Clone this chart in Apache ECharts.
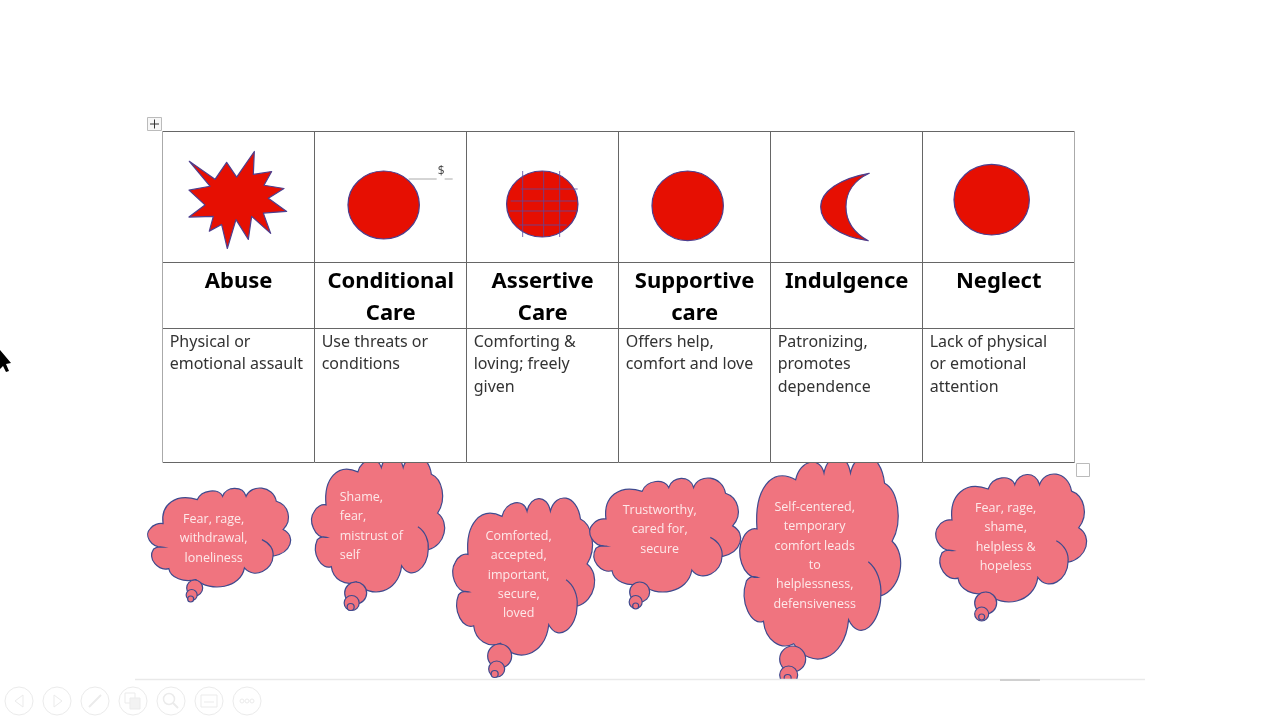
<!DOCTYPE html>
<html><head><meta charset="utf-8">
<style>html,body{margin:0;padding:0;background:#fff}#c{width:1280px;height:720px}</style>
<script src="https://cdn.jsdelivr.net/npm/echarts@6/dist/echarts.min.js"></script>
</head><body><div id="c"></div>
<script>
const categories = ['Abuse','Conditional Care','Assertive Care','Supportive care','Indulgence','Neglect'];
const headerLines = [['Abuse'],['Conditional','Care'],['Assertive','Care'],['Supportive','care'],['Indulgence'],['Neglect']];
const descriptions = [
  ['Physical or','emotional assault'],
  ['Use threats or','conditions'],
  ['Comforting &','loving; freely','given'],
  ['Offers help,','comfort and love'],
  ['Patronizing,','promotes','dependence'],
  ['Lack of physical','or emotional','attention']
];
const feelings = [
  ['Fear, rage,','withdrawal,','loneliness'],
  ['Shame,','fear,','mistrust of','self'],
  ['Comforted,','accepted,','important,','secure,','loved'],
  ['Trustworthy,','cared for,','secure'],
  ['Self-centered,','temporary','comfort leads','to','helplessness,','defensiveness'],
  ['Fear, rage,','shame,','helpless &','hopeless']
];

/* ---- layout and style, separate from the content ---- */
const RED='#e60f02', EDGE='#4c3f8f', PINK='#f0747f', CLOUD_EDGE='#3f4a8e', LINE='#666';
const rows=[131,262,328,462];
const CLOUD='M70 278C30 280 10 240 30 222C38 210 55 205 68 207C60 150 105 115 170 135C182 105 235 100 245 125C255 95 305 92 315 125C330 88 395 92 405 140C440 150 455 195 425 225C465 245 450 295 395 305C395 345 340 375 310 340C300 400 210 415 165 375C130 385 90 370 85 342C55 350 20 315 40 283C48 277 60 276 70 278Z'
 +'M362 255C385 265 398 285 395 305';
const STAR='M148 152L225 207L260 155L290 200L343 122L340 192L395 183L372 225L432 235L385 265L440 305L370 310L392 372L335 320L325 390L288 330L262 418L245 345L208 365L220 320L147 322L195 285L147 240L210 228Z';
const MOON='M778 190C690 205 632 245 632 290C632 340 690 380 775 392C735 370 708 335 708 290C708 245 735 210 778 190Z';
const cloudBox=[[-91,488,143,99],[-79,456,133,136],[-90,498,142,157],[-105,478,151,114],[-107,456,161,203],[-63,474,151,128]];
const textPos=[[-25,519.5,'center'],[-51,497.5,'left'],[-24,536.5,'center'],[-35,510.5,'center'],[-32,507.5,'center'],[7,508.5,'center']];
const tails=[
 [[-44,588,8],[-47,595,5.5],[-48,599,3]],
 [[-35,593,11],[-39,603,7.5],[-40,607,3.5]],
 [[-43,656,12],[-46,669,8],[-48,674,3.5]],
 [[-55,592,10],[-59,602,6.5],[-59,606,3]],
 [[-54,659,13],[-58,675,9],[-59,678,3.5]],
 [[-13,603,11],[-17,614,7],[-17,617,3]]
];
const ellipses=[null,[-7,205,35.7,34],[-0.4,204,35.7,33],[-7,205.8,35.7,34.8],null,[-7,199.7,37.7,35.3]];

const chart=echarts.init(document.getElementById('c'),null,{renderer:'canvas'});
const yp=(api,v)=>api.coord([0,v])[1];

function bubbleItem(params,api){
  const i=api.value(0), cx=api.coord([i,0])[0], kids=[];
  const b=cloudBox[i];
  kids.push({type:'path',shape:{pathData:CLOUD,layout:'cover',x:cx+b[0],y:yp(api,b[1]),width:b[2],height:b[3]},
    style:{fill:PINK,stroke:CLOUD_EDGE,lineWidth:1.2}});
  tails[i].forEach(t=>kids.push({type:'circle',shape:{cx:cx+t[0],cy:yp(api,t[1]),r:t[2]},
    style:{fill:PINK,stroke:CLOUD_EDGE,lineWidth:1.2}}));
  const p=textPos[i];
  feelings[i].forEach((l,k)=>kids.push({type:'text',style:{text:l,x:cx+p[0],y:yp(api,p[1]+k*19.3),
    fill:'#fde9ea',font:'12.5px "Open Sans"',textAlign:p[2],textVerticalAlign:'middle'}}));
  return {type:'group',children:kids};
}

function cellItem(params,api){
  const i=api.value(0), cx=api.coord([i,0])[0], bw=api.size([1,0])[0], L=cx-bw/2, R=cx+bw/2, kids=[];
  const T=yp(api,rows[0]),B=yp(api,rows[3]);
  kids.push({type:'rect',shape:{x:L,y:T-8,width:bw,height:B-T+8},style:{fill:'#fff'}});
  rows.forEach(r=>kids.push({type:'line',shape:{x1:L,y1:yp(api,r)+.5,x2:R,y2:yp(api,r)+.5},style:{stroke:LINE,lineWidth:1}}));
  kids.push({type:'line',shape:{x1:Math.floor(L)+.5,y1:T,x2:Math.floor(L)+.5,y2:B},style:{stroke:i==0?'#aaa':LINE,lineWidth:1}});
  if(i==5) kids.push({type:'line',shape:{x1:Math.floor(R)+.5,y1:T,x2:Math.floor(R)+.5,y2:B},style:{stroke:'#aaa',lineWidth:1}});
  const shapeStyle={fill:RED,stroke:EDGE,lineWidth:1.2,lineJoin:'round'};
  const e=ellipses[i];
  if(i==0) kids.push({type:'path',shape:{pathData:STAR,layout:'cover',x:cx-49.7,y:yp(api,151.5),width:97.7,height:97},style:shapeStyle});
  if(i==4) kids.push({type:'path',shape:{pathData:MOON,layout:'cover',x:cx-26,y:yp(api,173.3),width:48.6,height:67.4},style:shapeStyle});
  if(e) kids.push({type:'ellipse',shape:{cx:cx+e[0],cy:yp(api,e[1]),rx:e[2],ry:e[3]},style:shapeStyle});
  if(i==2){
    const g={stroke:'#5b4aa0',lineWidth:1,opacity:.8};
    [-20,1,17].forEach(d=>kids.push({type:'line',shape:{x1:cx+d,y1:yp(api,171),x2:cx+d,y2:yp(api,237)},style:g}));
    [[189,-22,35],[201,-32,34],[211,-33,34],[225,-24,24]].forEach(h=>kids.push({type:'line',shape:{x1:cx+h[1],y1:yp(api,h[0]),x2:cx+h[2],y2:yp(api,h[0])},style:g}));
  }
  if(i==1){
    kids.push({type:'line',shape:{x1:cx+18,y1:yp(api,179),x2:cx+46,y2:yp(api,179)},style:{stroke:'#aaa',lineWidth:1}});
    kids.push({type:'line',shape:{x1:cx+54,y1:yp(api,179),x2:cx+62,y2:yp(api,179)},style:{stroke:'#aaa',lineWidth:1}});
    kids.push({type:'text',style:{text:'$',x:cx+50.5,y:yp(api,172),fill:'#444',font:'12px "Open Sans"',textAlign:'center',textVerticalAlign:'middle'}});
  }
  headerLines[i].forEach((l,k)=>kids.push({type:'text',style:{text:l,x:cx,y:yp(api,281.5+k*32),fill:'#000',
    font:'bold 22px "Noto Sans"',textAlign:'center',textVerticalAlign:'middle'}}));
  descriptions[i].forEach((l,k)=>kids.push({type:'text',style:{text:l,x:L+7,y:yp(api,342+k*22.6),fill:'#333',
    font:'16px "Noto Sans"',textAlign:'left',textVerticalAlign:'middle'}}));
  return {type:'group',children:kids};
}

/* presentation chrome around the table */
const G=10, light='#ebebeb';
const chrome=[
 {type:'rect',z:G,shape:{x:0,y:679,width:1280,height:41},style:{fill:'#fff'}},
 {type:'line',z:G,shape:{x1:135,y1:679.5,x2:1145,y2:679.5},style:{stroke:'#e9e9e9',lineWidth:1.5}},
 {type:'line',z:G,shape:{x1:1000,y1:680,x2:1040,y2:680},style:{stroke:'#d0d0d0',lineWidth:2}},
 {type:'rect',z:G,shape:{x:147.5,y:117.5,width:14,height:13},style:{fill:'#f7f7f7',stroke:'#bbb',lineWidth:1}},
 {type:'line',z:G,shape:{x1:150,y1:124,x2:159,y2:124},style:{stroke:'#333',lineWidth:1}},
 {type:'line',z:G,shape:{x1:154.5,y1:119.5,x2:154.5,y2:128.5},style:{stroke:'#333',lineWidth:1}},
 {type:'rect',z:G,shape:{x:1076.5,y:463.5,width:13,height:13},style:{fill:'#fff',stroke:'#bbb',lineWidth:1}},
 {type:'polygon',z:G,shape:{points:[[0,350],[11,363],[6,364],[9,371],[6,372],[3,366],[0,369]]},style:{fill:'#000'}}
];
[19,57,95,133,171,209,247].forEach(x=>chrome.push({type:'circle',z:G,shape:{cx:x,cy:701,r:14},style:{fill:'none',stroke:light,lineWidth:1}}));
chrome.push(
 {type:'polygon',z:G,shape:{points:[[23,695],[15,701],[23,707]]},style:{fill:'none',stroke:light}},
 {type:'polygon',z:G,shape:{points:[[54,695],[62,701],[54,707]]},style:{fill:'none',stroke:light}},
 {type:'line',z:G,shape:{x1:89,y1:707,x2:101,y2:695},style:{stroke:light,lineWidth:2}},
 {type:'rect',z:G,shape:{x:125,y:693,width:10,height:10},style:{fill:'none',stroke:light}},
 {type:'rect',z:G,shape:{x:130,y:698,width:10,height:11},style:{fill:'#f2f2f2',stroke:light}},
 {type:'circle',z:G,shape:{cx:169,cy:699,r:5.5},style:{fill:'none',stroke:light,lineWidth:1.5}},
 {type:'line',z:G,shape:{x1:173,y1:703,x2:178,y2:708},style:{stroke:light,lineWidth:2}},
 {type:'rect',z:G,shape:{x:201,y:695,width:16,height:12},style:{fill:'none',stroke:light}},
 {type:'line',z:G,shape:{x1:204,y1:702,x2:214,y2:702},style:{stroke:light}},
 {type:'circle',z:G,shape:{cx:242,cy:701,r:2},style:{fill:'none',stroke:light}},
 {type:'circle',z:G,shape:{cx:247,cy:701,r:2},style:{fill:'none',stroke:light}},
 {type:'circle',z:G,shape:{cx:252,cy:701,r:2},style:{fill:'none',stroke:light}}
);

const rowsData=categories.map((c,i)=>[i]);
chart.setOption({
  animation:false,
  backgroundColor:'#fff',
  grid:{left:162.67,width:912,top:0,height:720},
  xAxis:{type:'category',data:categories,show:false},
  yAxis:{type:'value',min:0,max:720,inverse:true,show:false},
  tooltip:{show:false},
  series:[
    {type:'custom',name:'feelings',renderItem:bubbleItem,data:rowsData,encode:{x:0},clip:false,z:2,silent:true},
    {type:'custom',name:'table',renderItem:cellItem,data:rowsData,encode:{x:0},clip:false,z:3,silent:true}
  ],
  graphic:{elements:chrome}
});
</script></body></html>
